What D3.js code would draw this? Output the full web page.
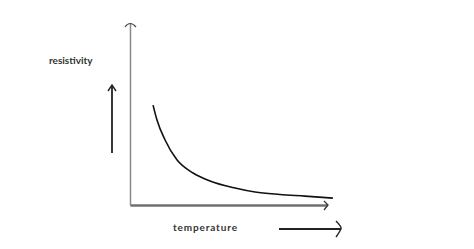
<!DOCTYPE html>
<html>
<head>
<meta charset="utf-8">
<script src="https://cdn.jsdelivr.net/npm/d3@7"></script>
<style>
  body { margin: 0; background: #fff; }
  text { font-family: Lato, "Open Sans", sans-serif; font-weight: bold; fill: #333; }
</style>
</head>
<body>
<div class="chart"></div>
<script>
// data (arbitrary units)
var temperature = [11.7, 13.7, 17.8, 23.9, 32.0, 40.6, 53.3, 63.5, 76.1, 88.8, 103];
var resistivity = [54.9, 46.7, 35.7, 24.7, 17.6, 13.2, 9.3, 7.1, 5.8, 4.9, 3.8];
var xLabel = "temperature";
var yLabel = "resistivity";

var width = 474, height = 249;
var margin = {top: 23, right: 147, bottom: 44, left: 130};

var svg = d3.select(".chart")
    .append("svg")
    .attr("width", width)
    .attr("height", height);

var data = temperature.map(function(t, i) { return {t: t, r: resistivity[i]}; });

// scales
var x = d3.scaleLinear()
    .domain([0, 100])
    .range([margin.left, width - margin.right]);
var y = d3.scaleLinear()
    .domain([0, 100])
    .range([height - margin.bottom, margin.top]);

// axes, no ticks
var yAxis = svg.append("g")
    .attr("transform", "translate(" + x(0) + ",0)")
    .call(d3.axisLeft(y).tickValues([]).tickSizeOuter(0));
yAxis.select(".domain").attr("stroke", "#8a8a8a").attr("stroke-width", 1.5);

var xAxis = svg.append("g")
    .attr("transform", "translate(0," + y(0) + ")")
    .call(d3.axisBottom(x).tickValues([]).tickSizeOuter(0));
xAxis.select(".domain").attr("stroke", "#707070").attr("stroke-width", 2.5);

// arrow heads on the axes
svg.append("path")
    .attr("d", "M" + (x(0) - 5) + "," + (y(100) + 4) + " Q" + x(0) + "," + (y(100) - 3) + " " + (x(0) + 6) + "," + (y(100) + 4))
    .attr("fill", "none").attr("stroke", "#444").attr("stroke-width", 1.2);
svg.append("path")
    .attr("d", "M" + (x(100) - 3) + "," + (y(0) - 4) + " L" + (x(100) + 1) + "," + y(0) + " L" + (x(100) - 3) + "," + (y(0) + 5))
    .attr("fill", "none").attr("stroke", "#333").attr("stroke-width", 1.3);

// the curve
svg.append("path")
    .datum(data)
    .attr("fill", "none")
    .attr("stroke", "#111")
    .attr("stroke-width", 1.6)
    .attr("d", d3.line()
        .curve(d3.curveMonotoneX)
        .x(function(d) { return x(d.t); })
        .y(function(d) { return y(d.r); })
    );

// resistivity label + up arrow
svg.append("text").attr("x", 49).attr("y", 64).text(yLabel).style("font-size", "10px");
svg.append("line")
    .attr("x1", 112).attr("x2", 112).attr("y1", 153).attr("y2", 85)
    .attr("stroke", "#222").attr("stroke-width", 1.8);
svg.append("path")
    .attr("d", "M108,91 L112,85 L116,91")
    .attr("fill", "none").attr("stroke", "#222").attr("stroke-width", 1.4);

// temperature label + right arrow
svg.append("text").attr("x", 173).attr("y", 231).text(xLabel)
    .style("font-size", "10px").attr("textLength", 64);
svg.append("line")
    .attr("x1", 279).attr("x2", 341).attr("y1", 229).attr("y2", 229)
    .attr("stroke", "#222").attr("stroke-width", 1.8);
svg.append("path")
    .attr("d", "M336,221 Q342,227 341,229 Q339,233 336,237")
    .attr("fill", "none").attr("stroke", "#222").attr("stroke-width", 1.4);
</script>
</body>
</html>
